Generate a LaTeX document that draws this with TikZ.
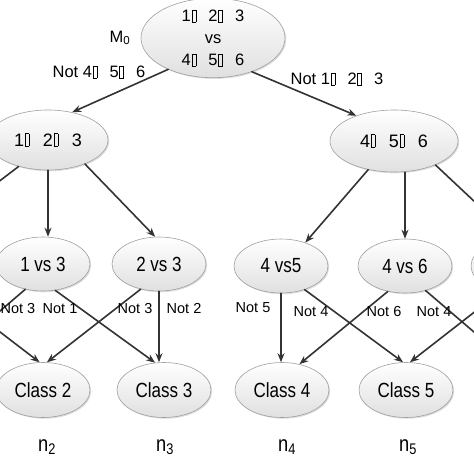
\documentclass[tikz,border=0pt]{standalone}
\usepackage{fontspec}
\setmainfont{Liberation Sans}
\newfontfamily\narrowsans{Liberation Sans}[FakeStretch=0.83]
\usetikzlibrary{arrows.meta,shapes.geometric,shadows}
\definecolor{treeInk}{HTML}{333333}
\definecolor{treeRim}{HTML}{A0A0A0}
\definecolor{treeFill}{HTML}{E0E0E0}
\newcommand\tofu{\kern0.6pt{\fboxsep=0pt\fboxrule=0.45pt\fbox{\rule{0pt}{0.68em}\hspace{0.22em}}}\hspace{0.75em}}

\begin{document}
\begin{tikzpicture}[x=1pt,y=-1pt,>={Stealth[length=9pt,width=7pt]},line cap=round,line join=round]
\useasboundingbox (0,0) rectangle (474,474);
\clip (0,0) rectangle (474,474);
\fill[white] (0,0) rectangle (474,474);
\tikzset{oval/.style={ellipse,draw=treeRim,line width=0.6pt,top color=white,bottom color=treeFill,drop shadow={shadow xshift=1.2pt,shadow yshift=-1.2pt,fill=gray!45,opacity=0.6},inner sep=0pt,minimum width=94pt,minimum height=54pt,font=\narrowsans\fontsize{20.5}{22}\selectfont,text=black},link/.style={draw=treeInk,line width=1.6pt,->},tag/.style={font=\fontsize{14.5}{16}\selectfont,text=black},bigtag/.style={font=\fontsize{16.5}{20}\selectfont,text=black},leaf/.style={font=\narrowsans\fontsize{22}{24}\selectfont,text=black}}
\node[oval,minimum width=144pt,minimum height=66pt,align=center,font=\fontsize{16.5}{22}\selectfont] (root) at (213,38) {1\tofu 2\tofu 3\\vs\\4\tofu 5\tofu 6};
\node[oval,minimum width=120pt,minimum height=60pt,font=\fontsize{18}{20}\selectfont] (one23) at (48,140) {1\tofu 2\tofu 3};
\node[oval,minimum width=128pt,minimum height=62pt,font=\fontsize{18}{20}\selectfont] (four56) at (394,141) {4\tofu 5\tofu 6};
\node[oval] (vs13) at (43,264) {1 vs 3}; \node[oval] (vs23) at (159,264) {2 vs 3}; \node[oval] (vs45) at (281,266) {4 vs5}; \node[oval] (vs46) at (405,266) {4 vs 6}; \node[oval] (vs56) at (518,266) {};
\node[oval,minimum height=55pt] (class2) at (43,390) {Class 2}; \node[oval,minimum height=55pt] (class3) at (164,390) {Class 3}; \node[oval,minimum height=55pt] (class4) at (282,390) {Class 4}; \node[oval,minimum height=55pt] (class5) at (406,390) {Class 5};
\coordinate (vs12n) at (-75,238); \coordinate (vs12s) at (-30,309); \coordinate (class1) at (-70,371); \coordinate (class6) at (530,380);
\draw[link] (root.215) -- (one23.49); \draw[link] (root.-41) -- (four56.146);
\draw[link] (one23.222) -- (vs12n); \draw[link] (one23) -- (one23 |- vs13.north); \draw[link] (one23.-33) -- (vs23.98);
\draw[link] (four56.228) -- (vs45.44); \draw[link] (four56.south -| vs46) -- (vs46); \draw[link] (four56.-30) -- (vs56.98);
\draw[link] (vs13.235) -- (class1); \draw[link] (vs13.-65) -- (class3.108); \draw[link] (vs23.234) -- (class2.82); \draw[link] (vs23) -- (vs23 |- class3.north); \draw[link] (vs12s) -- (class2.97);
\draw[link] (vs45) -- (vs45 |- class4.north); \draw[link] (vs45.-45) -- (class5.96); \draw[link] (vs46.236) -- (class4.56); \draw[link] (vs46.-50) -- (class6); \draw[link] (vs56.236) -- (class5.82);
\node[bigtag] (m0) at (120,38) {M\textsubscript{0}};
\node[bigtag] (notB) at (99,72) {Not 4\tofu 5\tofu 6}; \node[bigtag] (notA) at (337,79) {Not 1\tofu 2\tofu 3};
\node[tag] (n31) at (18,309) {Not 3}; \node[tag] (n11) at (60,309) {Not 1}; \node[tag] (n32) at (135,309) {Not 3}; \node[tag] (n21) at (184,309) {Not 2};
\node[tag] (n51) at (253,308) {Not 5}; \node[tag] (n41) at (311,312) {Not 4}; \node[tag] (n61) at (384,312) {Not 6}; \node[tag] (n42) at (434,312) {Not 4};
\node[leaf] (leaf2) at (47,447) {n\textsubscript{2}}; \node[leaf] (leaf3) at (165,447) {n\textsubscript{3}}; \node[leaf] (leaf4) at (287,447) {n\textsubscript{4}}; \node[leaf] (leaf5) at (408,447) {n\textsubscript{5}};
\end{tikzpicture}
\end{document}
